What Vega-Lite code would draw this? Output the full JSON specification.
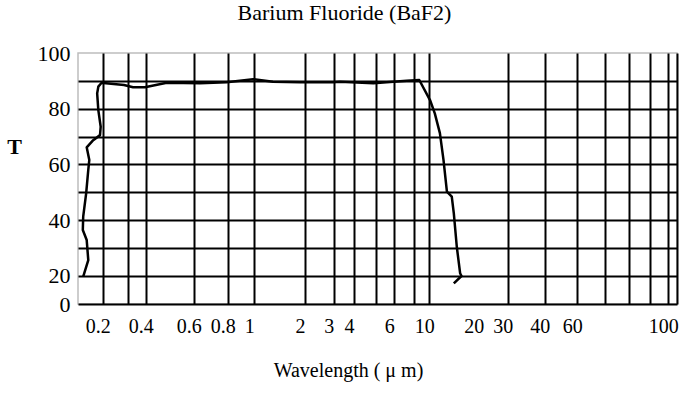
{
  "$schema": "https://vega.github.io/schema/vega-lite/v6.json",
  "autosize": "none",
  "padding": {"left": 78, "top": 53, "right": 15, "bottom": 91},
  "width": 599,
  "height": 251,
  "background": "white",
  "title": {
    "text": "Barium Fluoride (BaF2)",
    "font": "Liberation Serif",
    "fontSize": 22,
    "fontWeight": "normal",
    "color": "black",
    "anchor": "middle",
    "dx": -33,
    "baseline": "alphabetic",
    "offset": 0
  },
  "config": {"view": {"stroke": "#bdbdbd", "strokeWidth": 1.5}},
  "data": {
    "values": [
      {"i": 1, "wl": 0.138, "T": 19.3},
      {"i": 2, "wl": 0.152, "T": 25.6},
      {"i": 3, "wl": 0.1475, "T": 32.8},
      {"i": 4, "wl": 0.137, "T": 36.4},
      {"i": 5, "wl": 0.138, "T": 41.2},
      {"i": 6, "wl": 0.146, "T": 49.6},
      {"i": 7, "wl": 0.152, "T": 58.0},
      {"i": 8, "wl": 0.155, "T": 61.6},
      {"i": 9, "wl": 0.1475, "T": 66.1},
      {"i": 10, "wl": 0.167, "T": 68.7},
      {"i": 11, "wl": 0.19, "T": 70.5},
      {"i": 12, "wl": 0.1925, "T": 73.5},
      {"i": 13, "wl": 0.184, "T": 79.5},
      {"i": 14, "wl": 0.18, "T": 85.5},
      {"i": 15, "wl": 0.184, "T": 87.9},
      {"i": 16, "wl": 0.196, "T": 89.3},
      {"i": 17, "wl": 0.202, "T": 89.2},
      {"i": 18, "wl": 0.282, "T": 88.5},
      {"i": 19, "wl": 0.326, "T": 87.7},
      {"i": 20, "wl": 0.395, "T": 87.7},
      {"i": 21, "wl": 0.478, "T": 89.3},
      {"i": 22, "wl": 0.632, "T": 89.1},
      {"i": 23, "wl": 0.792, "T": 89.5},
      {"i": 24, "wl": 0.99, "T": 90.6},
      {"i": 25, "wl": 1.29, "T": 89.7},
      {"i": 26, "wl": 1.87, "T": 89.5},
      {"i": 27, "wl": 2.97, "T": 89.5},
      {"i": 28, "wl": 3.28, "T": 89.7},
      {"i": 29, "wl": 4.86, "T": 89.1},
      {"i": 30, "wl": 7.19, "T": 90.0},
      {"i": 31, "wl": 8.64, "T": 90.3},
      {"i": 32, "wl": 10.1, "T": 83.1},
      {"i": 33, "wl": 10.8, "T": 78.3},
      {"i": 34, "wl": 11.6, "T": 71.2},
      {"i": 35, "wl": 12.2, "T": 61.6},
      {"i": 36, "wl": 12.8, "T": 50.2},
      {"i": 37, "wl": 13.7, "T": 48.4},
      {"i": 38, "wl": 14.1, "T": 42.4},
      {"i": 39, "wl": 14.7, "T": 30.4},
      {"i": 40, "wl": 15.4, "T": 20.9},
      {"i": 41, "wl": 15.7, "T": 19.8},
      {"i": 42, "wl": 14.1, "T": 14.6}
    ]
  },
  "mark": {"type": "line", "color": "black", "strokeWidth": 2.5, "strokeJoin": "round"},
  "encoding": {
    "order": {"field": "i", "type": "quantitative"},
    "x": {
      "field": "wl",
      "type": "quantitative",
      "scale": {
        "type": "log",
        "domain": [0.125, 0.2, 0.4, 1, 2, 4, 6, 10, 30, 40, 60, 100, 105],
        "range": [0, 24.7, 67.7, 176.3, 227, 276, 316.3, 351.3, 429.7, 466.7, 499.3, 590.3, 599],
        "nice": false
      },
      "axis": {
        "title": "Wavelength ( μ m)",
        "values": [0.2, 0.3, 0.4, 0.6, 0.8, 1, 2, 3, 4, 5, 6, 8, 10, 20, 30, 40, 60, 70, 80, 90, 100, 105],
        "format": "~g",
        "labelExpr": "indexof([0.2, 0.4, 0.6, 0.8, 1, 2, 3, 4, 6, 10, 20, 30, 40, 60, 100], datum.value) >= 0 ? datum.label : ''",
        "grid": true,
        "gridColor": "black",
        "gridWidth": 2,
        "gridOpacity": {"condition": {"test": "datum.value == 20", "value": 0}, "value": 1},
        "ticks": false,
        "domain": false,
        "labelFont": "Liberation Serif",
        "labelFontSize": 20,
        "labelColor": "black",
        "labelPadding": 12,
        "labelOffset": -5,
        "labelFlush": false,
        "labelOverlap": false,
        "labelBaseline": "top",
        "titleFont": "Liberation Serif",
        "titleFontSize": 20,
        "titleFontWeight": "normal",
        "titleColor": "black",
        "titleX": 270,
        "titleY": 72,
        "titleBaseline": "alphabetic",
        "titleAlign": "center"
      }
    },
    "y": {
      "field": "T",
      "type": "quantitative",
      "scale": {"domain": [0, 20, 100], "range": [251, 222.7, 0], "nice": false, "zero": false},
      "axis": {
        "title": "T",
        "values": [0, 20, 30, 40, 50, 60, 70, 80, 90, 100],
        "format": "d",
        "labelExpr": "datum.value % 20 == 0 ? datum.label : ''",
        "grid": true,
        "gridColor": "black",
        "gridWidth": 2,
        "gridOpacity": {"condition": {"test": "datum.value == 100", "value": 0}, "value": 1},
        "ticks": false,
        "domain": false,
        "labelFont": "Liberation Serif",
        "labelFontSize": 22,
        "labelColor": "black",
        "labelPadding": 8,
        "labelDy": 4,
        "labelBaseline": "middle",
        "labelFlush": false,
        "labelOverlap": false,
        "titleAngle": 0,
        "titleFont": "Liberation Serif",
        "titleFontSize": 22,
        "titleFontWeight": "bold",
        "titleColor": "black",
        "titleX": -64,
        "titleY": 100,
        "titleBaseline": "alphabetic",
        "titleAlign": "center"
      }
    }
  }
}
